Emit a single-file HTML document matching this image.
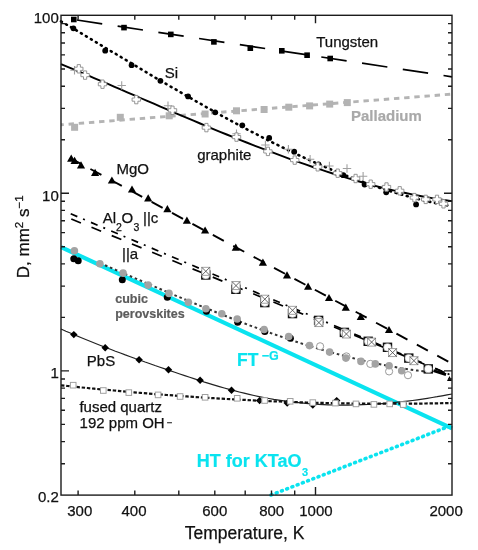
<!DOCTYPE html>
<html><head><meta charset="utf-8"><style>
html,body{margin:0;padding:0;background:#fff;}
svg{display:block;}
text{font-family:"Liberation Sans",sans-serif;}
</style></head><body>
<svg width="478" height="550" viewBox="0 0 478 550">
<rect width="478" height="550" fill="#fff"/>
<line x1="61" y1="124.8" x2="452" y2="94.1" stroke="#b4b4b4" stroke-width="2.9" stroke-linecap="butt" stroke-dasharray="5.4 4.8" stroke-dashoffset="2.6"/>
<rect x="71.1" y="123.8" width="7.0" height="7.0" fill="#b3b3b3" stroke="none" stroke-width="0"/>
<rect x="116.8" y="113.8" width="7.0" height="7.0" fill="#b3b3b3" stroke="none" stroke-width="0"/>
<rect x="165.7" y="112.3" width="7.0" height="7.0" fill="#b3b3b3" stroke="none" stroke-width="0"/>
<rect x="201.6" y="110.5" width="7.0" height="7.0" fill="#b3b3b3" stroke="none" stroke-width="0"/>
<rect x="233" y="107.3" width="7.0" height="7.0" fill="#b3b3b3" stroke="none" stroke-width="0"/>
<rect x="260.6" y="106" width="7.0" height="7.0" fill="#b3b3b3" stroke="none" stroke-width="0"/>
<rect x="285.3" y="103.7" width="7.0" height="7.0" fill="#b3b3b3" stroke="none" stroke-width="0"/>
<rect x="306.1" y="102.4" width="7.0" height="7.0" fill="#b3b3b3" stroke="none" stroke-width="0"/>
<rect x="326.2" y="100.6" width="7.0" height="7.0" fill="#b3b3b3" stroke="none" stroke-width="0"/>
<rect x="343.8" y="99.1" width="7.0" height="7.0" fill="#b3b3b3" stroke="none" stroke-width="0"/>
<line x1="76.9" y1="20" x2="452" y2="76.8" stroke="#000" stroke-width="1.7" stroke-linecap="butt" stroke-dasharray="25.6 15.6"/>
<rect x="71" y="16.7" width="5.6" height="5.6" fill="#000" stroke="none" stroke-width="0"/>
<rect x="121.2" y="24.8" width="5.6" height="5.6" fill="#000" stroke="none" stroke-width="0"/>
<rect x="168" y="31.6" width="5.6" height="5.6" fill="#000" stroke="none" stroke-width="0"/>
<rect x="211.1" y="39.1" width="5.6" height="5.6" fill="#000" stroke="none" stroke-width="0"/>
<rect x="247.5" y="45.4" width="5.6" height="5.6" fill="#000" stroke="none" stroke-width="0"/>
<rect x="279" y="48" width="5.6" height="5.6" fill="#000" stroke="none" stroke-width="0"/>
<rect x="304.3" y="52.4" width="5.6" height="5.6" fill="#000" stroke="none" stroke-width="0"/>
<rect x="327.4" y="55.7" width="5.6" height="5.6" fill="#000" stroke="none" stroke-width="0"/>
<path d="M61,64.1 L67.6,66.9 L74.3,69.6 L80.9,72.4 L87.5,75.2 L94.1,78.1 L100.8,80.9 L107.4,83.7 L114,86.6 L120.6,89.4 L127.3,92.3 L133.9,95.1 L140.5,98 L147.2,100.9 L153.8,103.7 L160.4,106.6 L167,109.4 L173.7,112.3 L180.3,115.1 L186.9,117.9 L193.5,120.7 L200.2,123.5 L206.8,126.3 L213.4,129.1 L220.1,131.8 L226.7,134.5 L233.3,137.2 L239.9,139.9 L246.6,142.5 L253.2,145.1 L259.8,147.7 L266.4,150.2 L273.1,152.7 L279.7,155.2 L286.3,157.7 L292.9,160.1 L299.6,162.4 L306.2,164.7 L312.8,167 L319.5,169.2 L326.1,171.4 L332.7,173.5 L339.3,175.6 L346,177.6 L352.6,179.6 L359.2,181.5 L365.8,183.3 L372.5,185.1 L379.1,186.8 L385.7,188.5 L392.4,190.1 L399,191.6 L405.6,193 L412.2,194.4 L418.9,195.7 L425.5,197 L432.1,198.1 L438.7,199.2 L445.4,200.2 L452,201.1" fill="none" stroke="#000" stroke-width="1.9" stroke-linecap="butt" stroke-linejoin="round"/>
<path d="M61,21.3 L67.6,25.2 L74.3,29.1 L80.9,33.1 L87.5,37.1 L94.1,41 L100.8,45 L107.4,49 L114,52.9 L120.6,56.9 L127.3,60.9 L133.9,64.8 L140.5,68.8 L147.2,72.7 L153.8,76.7 L160.4,80.6 L167,84.5 L173.7,88.3 L180.3,92.2 L186.9,96 L193.5,99.8 L200.2,103.6 L206.8,107.4 L213.4,111.1 L220.1,114.8 L226.7,118.4 L233.3,122 L239.9,125.6 L246.6,129.1 L253.2,132.6 L259.8,136 L266.4,139.4 L273.1,142.8 L279.7,146 L286.3,149.3 L292.9,152.4 L299.6,155.6 L306.2,158.6 L312.8,161.6 L319.5,164.5 L326.1,167.4 L332.7,170.2 L339.3,172.9 L346,175.6 L352.6,178.1 L359.2,180.6 L365.8,183 L372.5,185.4 L379.1,187.6 L385.7,189.8 L392.4,191.8 L399,193.8 L405.6,195.7 L412.2,197.5 L418.9,199.2 L425.5,200.8 L432.1,202.3 L438.7,203.7 L445.4,205 L452,206.2" fill="none" stroke="#000" stroke-width="2.6" stroke-linecap="round" stroke-linejoin="round" stroke-dasharray="1.0 4.8"/>
<circle cx="73.4" cy="28.3" r="2.9" fill="#000" stroke="none" stroke-width="0"/>
<circle cx="105.2" cy="50.7" r="2.9" fill="#000" stroke="none" stroke-width="0"/>
<circle cx="131.6" cy="65.2" r="2.9" fill="#000" stroke="none" stroke-width="0"/>
<circle cx="160.4" cy="80.8" r="2.9" fill="#000" stroke="none" stroke-width="0"/>
<circle cx="188.1" cy="96.4" r="2.9" fill="#000" stroke="none" stroke-width="0"/>
<circle cx="215.2" cy="112.3" r="2.9" fill="#000" stroke="none" stroke-width="0"/>
<circle cx="242.3" cy="125.3" r="2.9" fill="#000" stroke="none" stroke-width="0"/>
<circle cx="269.2" cy="137.9" r="2.9" fill="#000" stroke="none" stroke-width="0"/>
<circle cx="294.2" cy="151.7" r="2.9" fill="#000" stroke="none" stroke-width="0"/>
<circle cx="318.5" cy="164.3" r="2.9" fill="#000" stroke="none" stroke-width="0"/>
<circle cx="343.3" cy="175.2" r="2.9" fill="#000" stroke="none" stroke-width="0"/>
<circle cx="364.6" cy="184.5" r="2.9" fill="#000" stroke="none" stroke-width="0"/>
<circle cx="386.2" cy="192.3" r="2.9" fill="#000" stroke="none" stroke-width="0"/>
<circle cx="416.1" cy="204.4" r="2.9" fill="#000" stroke="none" stroke-width="0"/>
<path d="M70.3,70.2 h8.4 M74.5,66 v8.4" stroke="#a0a0a0" stroke-width="1.1" fill="none"/>
<path d="M117.5,85.5 h8.4 M121.7,81.3 v8.4" stroke="#a0a0a0" stroke-width="1.1" fill="none"/>
<path d="M163.8,105.7 h8.4 M168,101.5 v8.4" stroke="#a0a0a0" stroke-width="1.1" fill="none"/>
<path d="M232.3,133.8 h8.4 M236.5,129.6 v8.4" stroke="#a0a0a0" stroke-width="1.1" fill="none"/>
<path d="M261.2,145 h8.4 M265.4,140.8 v8.4" stroke="#a0a0a0" stroke-width="1.1" fill="none"/>
<path d="M284.2,149.2 h8.4 M288.4,145 v8.4" stroke="#a0a0a0" stroke-width="1.1" fill="none"/>
<path d="M305.9,159.3 h8.4 M310.1,155.1 v8.4" stroke="#a0a0a0" stroke-width="1.1" fill="none"/>
<path d="M325.2,166 h8.4 M329.4,161.8 v8.4" stroke="#a0a0a0" stroke-width="1.1" fill="none"/>
<path d="M342.8,168.5 h8.4 M347,164.3 v8.4" stroke="#a0a0a0" stroke-width="1.1" fill="none"/>
<path d="M358.9,176.2 h8.4 M363.1,172 v8.4" stroke="#a0a0a0" stroke-width="1.1" fill="none"/>
<path d="M77.2,64.6 h3.2 v2.6 h2.6 v3.2 h-2.6 v2.6 h-3.2 v-2.6 h-2.6 v-3.2 h2.6 Z" fill="#fff" stroke="#8a8a8a" stroke-width="0.9"/>
<path d="M83.5,70.9 h3.2 v2.6 h2.6 v3.2 h-2.6 v2.6 h-3.2 v-2.6 h-2.6 v-3.2 h2.6 Z" fill="#fff" stroke="#8a8a8a" stroke-width="0.9"/>
<path d="M100.9,80 h3.2 v2.6 h2.6 v3.2 h-2.6 v2.6 h-3.2 v-2.6 h-2.6 v-3.2 h2.6 Z" fill="#fff" stroke="#8a8a8a" stroke-width="0.9"/>
<path d="M134.7,95.4 h3.2 v2.6 h2.6 v3.2 h-2.6 v2.6 h-3.2 v-2.6 h-2.6 v-3.2 h2.6 Z" fill="#fff" stroke="#8a8a8a" stroke-width="0.9"/>
<path d="M170.9,106.1 h3.2 v2.6 h2.6 v3.2 h-2.6 v2.6 h-3.2 v-2.6 h-2.6 v-3.2 h2.6 Z" fill="#fff" stroke="#8a8a8a" stroke-width="0.9"/>
<path d="M204.8,123.4 h3.2 v2.6 h2.6 v3.2 h-2.6 v2.6 h-3.2 v-2.6 h-2.6 v-3.2 h2.6 Z" fill="#fff" stroke="#8a8a8a" stroke-width="0.9"/>
<path d="M234.9,132.9 h3.2 v2.6 h2.6 v3.2 h-2.6 v2.6 h-3.2 v-2.6 h-2.6 v-3.2 h2.6 Z" fill="#fff" stroke="#8a8a8a" stroke-width="0.9"/>
<path d="M266.3,147.2 h3.2 v2.6 h2.6 v3.2 h-2.6 v2.6 h-3.2 v-2.6 h-2.6 v-3.2 h2.6 Z" fill="#fff" stroke="#8a8a8a" stroke-width="0.9"/>
<path d="M293.1,155.9 h3.2 v2.6 h2.6 v3.2 h-2.6 v2.6 h-3.2 v-2.6 h-2.6 v-3.2 h2.6 Z" fill="#fff" stroke="#8a8a8a" stroke-width="0.9"/>
<path d="M316.1,162.6 h3.2 v2.6 h2.6 v3.2 h-2.6 v2.6 h-3.2 v-2.6 h-2.6 v-3.2 h2.6 Z" fill="#fff" stroke="#8a8a8a" stroke-width="0.9"/>
<path d="M336.1,169 h3.2 v2.6 h2.6 v3.2 h-2.6 v2.6 h-3.2 v-2.6 h-2.6 v-3.2 h2.6 Z" fill="#fff" stroke="#8a8a8a" stroke-width="0.9"/>
<path d="M354,174.3 h3.2 v2.6 h2.6 v3.2 h-2.6 v2.6 h-3.2 v-2.6 h-2.6 v-3.2 h2.6 Z" fill="#fff" stroke="#8a8a8a" stroke-width="0.9"/>
<path d="M369.1,180 h3.2 v2.6 h2.6 v3.2 h-2.6 v2.6 h-3.2 v-2.6 h-2.6 v-3.2 h2.6 Z" fill="#fff" stroke="#8a8a8a" stroke-width="0.9"/>
<path d="M384.9,182.8 h3.2 v2.6 h2.6 v3.2 h-2.6 v2.6 h-3.2 v-2.6 h-2.6 v-3.2 h2.6 Z" fill="#fff" stroke="#8a8a8a" stroke-width="0.9"/>
<path d="M398.1,186.6 h3.2 v2.6 h2.6 v3.2 h-2.6 v2.6 h-3.2 v-2.6 h-2.6 v-3.2 h2.6 Z" fill="#fff" stroke="#8a8a8a" stroke-width="0.9"/>
<path d="M412.8,193.4 h3.2 v2.6 h2.6 v3.2 h-2.6 v2.6 h-3.2 v-2.6 h-2.6 v-3.2 h2.6 Z" fill="#fff" stroke="#8a8a8a" stroke-width="0.9"/>
<path d="M424.1,195.2 h3.2 v2.6 h2.6 v3.2 h-2.6 v2.6 h-3.2 v-2.6 h-2.6 v-3.2 h2.6 Z" fill="#fff" stroke="#8a8a8a" stroke-width="0.9"/>
<path d="M435.4,195.2 h3.2 v2.6 h2.6 v3.2 h-2.6 v2.6 h-3.2 v-2.6 h-2.6 v-3.2 h2.6 Z" fill="#fff" stroke="#8a8a8a" stroke-width="0.9"/>
<path d="M441.9,199.6 h3.2 v2.6 h2.6 v3.2 h-2.6 v2.6 h-3.2 v-2.6 h-2.6 v-3.2 h2.6 Z" fill="#fff" stroke="#8a8a8a" stroke-width="0.9"/>
<line x1="70" y1="158" x2="452" y2="363.6" stroke="#000" stroke-width="1.9" stroke-linecap="butt" stroke-dasharray="12.5 10.67"/>
<path d="M71.2,154.6 L75.3,161.8 L67.1,161.8 Z" fill="#000"/>
<path d="M74.6,156.8 L78.7,164 L70.5,164 Z" fill="#000"/>
<path d="M81,161.2 L85.1,168.4 L76.9,168.4 Z" fill="#000"/>
<path d="M95.1,168.7 L99.2,175.9 L91,175.9 Z" fill="#000"/>
<path d="M111.9,176.4 L116,183.6 L107.8,183.6 Z" fill="#000"/>
<path d="M132,185.4 L136.1,192.6 L127.9,192.6 Z" fill="#000"/>
<path d="M148.2,194.3 L152.3,201.5 L144.1,201.5 Z" fill="#000"/>
<path d="M167.4,205.1 L171.5,212.3 L163.3,212.3 Z" fill="#000"/>
<path d="M186.9,216.5 L191,223.7 L182.8,223.7 Z" fill="#000"/>
<path d="M205.1,226.4 L209.2,233.6 L201,233.6 Z" fill="#000"/>
<path d="M235.8,243.5 L239.9,250.7 L231.7,250.7 Z" fill="#000"/>
<path d="M262.9,258.6 L267,265.8 L258.8,265.8 Z" fill="#000"/>
<path d="M287,271.3 L291.1,278.5 L282.9,278.5 Z" fill="#000"/>
<path d="M308.1,282.6 L312.2,289.8 L304,289.8 Z" fill="#000"/>
<path d="M329,293.9 L333.1,301.1 L324.9,301.1 Z" fill="#000"/>
<path d="M345.8,303.5 L349.9,310.7 L341.7,310.7 Z" fill="#000"/>
<path d="M360.8,312.8 L364.9,320 L356.7,320 Z" fill="#000"/>
<path d="M389,325.9 L393.1,333.1 L384.9,333.1 Z" fill="#000"/>
<path d="M449.5,375.9 L452,380.9 L447,380.9 Z" fill="#000"/>
<line x1="70.7" y1="213.8" x2="452" y2="375.5" stroke="#000" stroke-width="1.7" stroke-linecap="butt" stroke-dasharray="7.2 6.2 2.0 6.6"/>
<line x1="71.3" y1="219" x2="452" y2="375.5" stroke="#000" stroke-width="1.7" stroke-linecap="butt" stroke-dasharray="10.4 11.45"/>
<line x1="433.5" y1="370.6" x2="446" y2="374.6" stroke="#000" stroke-width="3.0" stroke-linecap="butt"/>
<line x1="61" y1="247.1" x2="452" y2="428.3" stroke="#0ae3ef" stroke-width="4.2" stroke-linecap="butt"/>
<line x1="271" y1="495" x2="452" y2="425.2" stroke="#0ae3ef" stroke-width="3.6" stroke-linecap="round" stroke-dasharray="1.0 4.6"/>
<path d="M100,263.1 L105.6,265.5 L111.1,267.9 L116.7,270.3 L122.3,272.7 L127.8,275.1 L133.4,277.5 L139,279.9 L144.5,282.3 L150.1,284.7 L155.7,287.1 L161.2,289.5 L166.8,291.8 L172.4,294.2 L177.9,296.5 L183.5,298.9 L189.1,301.2 L194.7,303.5 L200.2,305.8 L205.8,308.1 L211.4,310.3 L216.9,312.6 L222.5,314.8 L228.1,317 L233.6,319.2 L239.2,321.3 L244.8,323.5 L250.3,325.6 L255.9,327.6 L261.5,329.7 L267,331.7 L272.6,333.7 L278.2,335.6 L283.7,337.5 L289.3,339.4 L294.9,341.3 L300.4,343.1 L306,344.9 L311.6,346.6 L317.1,348.3 L322.7,349.9 L328.3,351.6 L333.8,353.1 L339.4,354.6 L345,356.1 L350.6,357.5 L356.1,358.9 L361.7,360.3 L367.3,361.5 L372.8,362.8 L378.4,363.9 L384,365.1 L389.5,366.1 L395.1,367.1 L400.7,368.1 L406.2,369 L411.8,369.8 L417.4,370.6 L422.9,371.3 L428.5,371.9" fill="none" stroke="#333" stroke-width="2.0" stroke-linecap="butt" stroke-linejoin="round" stroke-dasharray="2.6 2.8"/>
<circle cx="73.8" cy="258.7" r="3.5" fill="#000" stroke="none" stroke-width="0"/>
<circle cx="78.2" cy="260.8" r="3.5" fill="#000" stroke="none" stroke-width="0"/>
<circle cx="122.3" cy="279.8" r="3.5" fill="#000" stroke="none" stroke-width="0"/>
<circle cx="167.3" cy="297.2" r="3.5" fill="#000" stroke="none" stroke-width="0"/>
<circle cx="206.5" cy="311.2" r="3.5" fill="#000" stroke="none" stroke-width="0"/>
<circle cx="237.7" cy="322.2" r="3.5" fill="#000" stroke="none" stroke-width="0"/>
<circle cx="264.8" cy="331.5" r="3.5" fill="#000" stroke="none" stroke-width="0"/>
<circle cx="290.4" cy="338.3" r="3.5" fill="#000" stroke="none" stroke-width="0"/>
<circle cx="320.1" cy="346.3" r="3.6" fill="#fff" stroke="#9a9a9a" stroke-width="1.0"/>
<circle cx="346.4" cy="356.4" r="3.6" fill="#fff" stroke="#9a9a9a" stroke-width="1.0"/>
<circle cx="370.3" cy="363.9" r="3.6" fill="#fff" stroke="#9a9a9a" stroke-width="1.0"/>
<circle cx="389.1" cy="371.4" r="3.6" fill="#fff" stroke="#9a9a9a" stroke-width="1.0"/>
<circle cx="408" cy="375.2" r="3.6" fill="#fff" stroke="#9a9a9a" stroke-width="1.0"/>
<circle cx="74.4" cy="250.8" r="3.8" fill="#a3a3a3" stroke="none" stroke-width="0"/>
<circle cx="99.9" cy="263.7" r="3.8" fill="#a3a3a3" stroke="none" stroke-width="0"/>
<circle cx="123.1" cy="273.1" r="3.8" fill="#a3a3a3" stroke="none" stroke-width="0"/>
<circle cx="148.2" cy="285.1" r="3.8" fill="#a3a3a3" stroke="none" stroke-width="0"/>
<circle cx="169" cy="293.4" r="3.8" fill="#a3a3a3" stroke="none" stroke-width="0"/>
<circle cx="188.4" cy="302.2" r="3.8" fill="#a3a3a3" stroke="none" stroke-width="0"/>
<circle cx="205.9" cy="308.8" r="3.8" fill="#a3a3a3" stroke="none" stroke-width="0"/>
<circle cx="221.8" cy="313.8" r="3.8" fill="#a3a3a3" stroke="none" stroke-width="0"/>
<circle cx="237.2" cy="319" r="3.8" fill="#a3a3a3" stroke="none" stroke-width="0"/>
<circle cx="264.1" cy="329.5" r="3.8" fill="#a3a3a3" stroke="none" stroke-width="0"/>
<circle cx="288.7" cy="336.5" r="3.8" fill="#a3a3a3" stroke="none" stroke-width="0"/>
<circle cx="309.5" cy="345.6" r="3.8" fill="#a3a3a3" stroke="none" stroke-width="0"/>
<circle cx="329.6" cy="352.1" r="3.8" fill="#a3a3a3" stroke="none" stroke-width="0"/>
<circle cx="345.9" cy="358.1" r="3.8" fill="#a3a3a3" stroke="none" stroke-width="0"/>
<circle cx="361" cy="361.4" r="3.8" fill="#a3a3a3" stroke="none" stroke-width="0"/>
<circle cx="375.3" cy="363.9" r="3.8" fill="#a3a3a3" stroke="none" stroke-width="0"/>
<circle cx="389.1" cy="365.7" r="3.8" fill="#a3a3a3" stroke="none" stroke-width="0"/>
<circle cx="401.7" cy="370.7" r="3.8" fill="#a3a3a3" stroke="none" stroke-width="0"/>
<rect x="201.9" y="271.1" width="7.8" height="7.8" fill="#fff" stroke="#111" stroke-width="1.6"/>
<rect x="232" y="285.4" width="7.8" height="7.8" fill="#fff" stroke="#111" stroke-width="1.6"/>
<rect x="260.9" y="298.7" width="7.8" height="7.8" fill="#fff" stroke="#111" stroke-width="1.6"/>
<rect x="288.6" y="309.7" width="7.8" height="7.8" fill="#fff" stroke="#111" stroke-width="1.6"/>
<rect x="314.7" y="316.5" width="7.8" height="7.8" fill="#fff" stroke="#111" stroke-width="1.6"/>
<rect x="340.5" y="328.5" width="7.8" height="7.8" fill="#fff" stroke="#111" stroke-width="1.6"/>
<rect x="364.3" y="337.4" width="7.8" height="7.8" fill="#fff" stroke="#111" stroke-width="1.6"/>
<rect x="383.6" y="343.4" width="7.8" height="7.8" fill="#fff" stroke="#111" stroke-width="1.6"/>
<rect x="404.9" y="354.2" width="7.8" height="7.8" fill="#fff" stroke="#111" stroke-width="1.6"/>
<rect x="424.4" y="365" width="7.8" height="7.8" fill="#fff" stroke="#111" stroke-width="1.6"/>
<circle cx="205.8" cy="275" r="3.9" fill="#fff" stroke="#888" stroke-width="0.5"/>
<circle cx="235.9" cy="289.3" r="3.9" fill="#fff" stroke="#888" stroke-width="0.5"/>
<circle cx="264.8" cy="302.6" r="3.9" fill="#fff" stroke="#888" stroke-width="0.5"/>
<circle cx="292.5" cy="313.6" r="3.9" fill="#fff" stroke="#888" stroke-width="0.5"/>
<circle cx="318.6" cy="320.4" r="3.9" fill="#fff" stroke="#888" stroke-width="0.5"/>
<circle cx="344.4" cy="332.4" r="3.9" fill="#fff" stroke="#888" stroke-width="0.5"/>
<circle cx="368.2" cy="341.3" r="3.9" fill="#fff" stroke="#888" stroke-width="0.5"/>
<circle cx="387.5" cy="347.3" r="3.9" fill="#fff" stroke="#888" stroke-width="0.5"/>
<circle cx="408.8" cy="358.1" r="3.9" fill="#fff" stroke="#888" stroke-width="0.5"/>
<circle cx="428.3" cy="368.9" r="3.9" fill="#fff" stroke="#888" stroke-width="0.5"/>
<rect x="201.8" y="267.3" width="8.0" height="8.0" fill="#fff" stroke="#9a9a9a" stroke-width="0.9"/>
<path d="M201.8,267.3 L209.8,275.3 M209.8,267.3 L201.8,275.3" stroke="#444" stroke-width="0.8"/>
<rect x="232" y="281.6" width="8.0" height="8.0" fill="#fff" stroke="#9a9a9a" stroke-width="0.9"/>
<path d="M232,281.6 L240,289.6 M240,281.6 L232,289.6" stroke="#444" stroke-width="0.8"/>
<rect x="260.8" y="295.2" width="8.0" height="8.0" fill="#fff" stroke="#9a9a9a" stroke-width="0.9"/>
<path d="M260.8,295.2 L268.8,303.2 M268.8,295.2 L260.8,303.2" stroke="#444" stroke-width="0.8"/>
<rect x="288.5" y="306.3" width="8.0" height="8.0" fill="#fff" stroke="#9a9a9a" stroke-width="0.9"/>
<path d="M288.5,306.3 L296.5,314.3 M296.5,306.3 L288.5,314.3" stroke="#444" stroke-width="0.8"/>
<rect x="314.9" y="318.6" width="8.0" height="8.0" fill="#fff" stroke="#9a9a9a" stroke-width="0.9"/>
<path d="M314.9,318.6 L322.9,326.6 M322.9,318.6 L314.9,326.6" stroke="#444" stroke-width="0.8"/>
<rect x="342.4" y="330" width="8.0" height="8.0" fill="#fff" stroke="#9a9a9a" stroke-width="0.9"/>
<path d="M342.4,330 L350.4,338 M350.4,330 L342.4,338" stroke="#444" stroke-width="0.8"/>
<rect x="367.6" y="338.1" width="8.0" height="8.0" fill="#fff" stroke="#9a9a9a" stroke-width="0.9"/>
<path d="M367.6,338.1 L375.6,346.1 M375.6,338.1 L367.6,346.1" stroke="#444" stroke-width="0.8"/>
<rect x="388.6" y="348.6" width="8.0" height="8.0" fill="#fff" stroke="#9a9a9a" stroke-width="0.9"/>
<path d="M388.6,348.6 L396.6,356.6 M396.6,348.6 L388.6,356.6" stroke="#444" stroke-width="0.8"/>
<rect x="409.9" y="356.7" width="8.0" height="8.0" fill="#fff" stroke="#9a9a9a" stroke-width="0.9"/>
<path d="M409.9,356.7 L417.9,364.7 M417.9,356.7 L409.9,364.7" stroke="#444" stroke-width="0.8"/>
<path d="M61,329 L65.9,331.2 L70.9,333.3 L75.8,335.4 L80.8,337.5 L85.7,339.5 L90.7,341.5 L95.6,343.5 L100.6,345.5 L105.5,347.4 L110.5,349.3 L115.4,351.2 L120.4,353 L125.3,354.9 L130.3,356.7 L135.2,358.5 L140.2,360.2 L145.1,362 L150.1,363.7 L155,365.5 L160,367.2 L164.9,368.9 L169.9,370.6 L174.8,372.3 L179.8,374 L184.7,375.6 L189.7,377.3 L194.6,378.9 L199.6,380.5 L204.5,382.1 L209.5,383.6 L214.4,385.1 L219.4,386.6 L224.3,388 L229.3,389.4 L234.2,390.7 L239.2,392 L244.1,393.2 L249.1,394.4 L254,395.5 L259,396.6 L263.9,397.6 L268.9,398.5 L273.8,399.4 L278.8,400.2 L283.7,400.9 L288.7,401.6 L293.6,402.2 L298.6,402.7 L303.5,403.2 L308.5,403.7 L313.4,404 L318.4,404.3 L323.3,404.6 L328.3,404.8 L333.2,405 L338.2,405.1 L343.1,405.1 L348.1,405.1 L353,405 L358,404.9 L362.9,404.7 L367.9,404.5 L372.8,404.3 L377.8,403.9 L382.7,403.6 L387.7,403.2 L392.6,402.7 L397.6,402.2 L402.5,401.7 L407.5,401.1 L412.4,400.5 L417.4,399.8 L422.3,399.1 L427.3,398.3 L432.2,397.5 L437.2,396.7 L442.1,395.8 L447.1,394.9 L452,394" fill="none" stroke="#222" stroke-width="1.2" stroke-linecap="butt" stroke-linejoin="round"/>
<path d="M73.8,330.9 L77.5,334.6 L73.8,338.3 L70.1,334.6 Z" fill="#000"/>
<path d="M105.2,344 L108.9,347.7 L105.2,351.4 L101.5,347.7 Z" fill="#000"/>
<path d="M139.1,356 L142.8,359.7 L139.1,363.4 L135.4,359.7 Z" fill="#000"/>
<path d="M168.5,366.1 L172.2,369.8 L168.5,373.5 L164.8,369.8 Z" fill="#000"/>
<path d="M200.1,376.5 L203.8,380.2 L200.1,383.9 L196.4,380.2 Z" fill="#000"/>
<path d="M231.5,386.6 L235.2,390.3 L231.5,394 L227.8,390.3 Z" fill="#000"/>
<path d="M259.6,396.9 L263.3,400.6 L259.6,404.3 L255.9,400.6 Z" fill="#000"/>
<path d="M287.2,399.4 L290.9,403.1 L287.2,406.8 L283.5,403.1 Z" fill="#000"/>
<path d="M312.8,401.4 L316.5,405.1 L312.8,408.8 L309.1,405.1 Z" fill="#000"/>
<path d="M336.7,396.9 L340.4,400.6 L336.7,404.3 L333,400.6 Z" fill="#000"/>
<path d="M61,385.3 L67.6,386 L74.3,386.7 L80.9,387.4 L87.5,388 L94.1,388.7 L100.8,389.3 L107.4,389.9 L114,390.5 L120.6,391.1 L127.3,391.7 L133.9,392.3 L140.5,392.9 L147.2,393.4 L153.8,394 L160.4,394.5 L167,395 L173.7,395.5 L180.3,396 L186.9,396.4 L193.5,396.9 L200.2,397.3 L206.8,397.8 L213.4,398.2 L220.1,398.6 L226.7,399 L233.3,399.3 L239.9,399.7 L246.6,400 L253.2,400.4 L259.8,400.7 L266.4,401 L273.1,401.3 L279.7,401.5 L286.3,401.8 L292.9,402 L299.6,402.3 L306.2,402.5 L312.8,402.7 L319.5,402.8 L326.1,403 L332.7,403.1 L339.3,403.3 L346,403.4 L352.6,403.5 L359.2,403.6 L365.8,403.6 L372.5,403.7 L379.1,403.7 L385.7,403.7 L392.4,403.7 L399,403.7 L405.6,403.7 L412.2,403.6 L418.9,403.6 L425.5,403.5 L432.1,403.4 L438.7,403.3 L445.4,403.1 L452,403" fill="none" stroke="#111" stroke-width="2.2" stroke-linecap="butt" stroke-linejoin="round" stroke-dasharray="3.4 1.8"/>
<rect x="70.4" y="382.4" width="5.6" height="5.6" fill="#fff" stroke="#a0a0a0" stroke-width="1.0"/>
<rect x="100.5" y="387.7" width="5.6" height="5.6" fill="#fff" stroke="#a0a0a0" stroke-width="1.0"/>
<rect x="126" y="389.8" width="5.6" height="5.6" fill="#fff" stroke="#a0a0a0" stroke-width="1.0"/>
<rect x="155.3" y="392.1" width="5.6" height="5.6" fill="#fff" stroke="#a0a0a0" stroke-width="1.0"/>
<rect x="177.3" y="393.7" width="5.6" height="5.6" fill="#fff" stroke="#a0a0a0" stroke-width="1.0"/>
<rect x="202.3" y="394.5" width="5.6" height="5.6" fill="#fff" stroke="#a0a0a0" stroke-width="1.0"/>
<rect x="234.4" y="395.5" width="5.6" height="5.6" fill="#fff" stroke="#a0a0a0" stroke-width="1.0"/>
<rect x="261.8" y="397.7" width="5.6" height="5.6" fill="#fff" stroke="#a0a0a0" stroke-width="1.0"/>
<rect x="287.4" y="398.5" width="5.6" height="5.6" fill="#fff" stroke="#a0a0a0" stroke-width="1.0"/>
<rect x="310" y="399.8" width="5.6" height="5.6" fill="#fff" stroke="#a0a0a0" stroke-width="1.0"/>
<rect x="332.6" y="400.3" width="5.6" height="5.6" fill="#fff" stroke="#a0a0a0" stroke-width="1.0"/>
<rect x="353.2" y="401.1" width="5.6" height="5.6" fill="#fff" stroke="#a0a0a0" stroke-width="1.0"/>
<rect x="371.1" y="401.6" width="5.6" height="5.6" fill="#fff" stroke="#a0a0a0" stroke-width="1.0"/>
<rect x="386.9" y="401.1" width="5.6" height="5.6" fill="#fff" stroke="#a0a0a0" stroke-width="1.0"/>
<rect x="400.5" y="401.8" width="5.6" height="5.6" fill="#fff" stroke="#a0a0a0" stroke-width="1.0"/>
<rect x="61" y="15.3" width="391" height="479.8" fill="none" stroke="#1c1c1c" stroke-width="1.4"/>
<path d="M61,463.8 h4 M452,463.8 h-4 M61,441.6 h4 M452,441.6 h-4 M61,424.4 h4 M452,424.4 h-4 M61,410.3 h4 M452,410.3 h-4 M61,398.4 h4 M452,398.4 h-4 M61,388.1 h4 M452,388.1 h-4 M61,379 h4 M452,379 h-4 M61,370.9 h8 M452,370.9 h-8 M61,317.4 h4 M452,317.4 h-4 M61,286.1 h4 M452,286.1 h-4 M61,263.9 h4 M452,263.9 h-4 M61,246.7 h4 M452,246.7 h-4 M61,232.6 h4 M452,232.6 h-4 M61,220.7 h4 M452,220.7 h-4 M61,210.4 h4 M452,210.4 h-4 M61,201.3 h4 M452,201.3 h-4 M61,193.2 h8 M452,193.2 h-8 M61,139.7 h4 M452,139.7 h-4 M61,108.4 h4 M452,108.4 h-4 M61,86.2 h4 M452,86.2 h-4 M61,69 h4 M452,69 h-4 M61,54.9 h4 M452,54.9 h-4 M61,43 h4 M452,43 h-4 M61,32.7 h4 M452,32.7 h-4 M61,23.6 h4 M452,23.6 h-4 M78.1,495.1 v-4.5 M78.1,15.3 v4.5 M134.8,495.1 v-4.5 M134.8,15.3 v4.5 M178.8,495.1 v-4.5 M178.8,15.3 v4.5 M214.8,495.1 v-4.5 M214.8,15.3 v4.5 M245.2,495.1 v-4.5 M245.2,15.3 v4.5 M271.5,495.1 v-4.5 M271.5,15.3 v4.5 M294.7,495.1 v-4.5 M294.7,15.3 v4.5 M315.5,495.1 v-8 M315.5,15.3 v8" stroke="#1c1c1c" stroke-width="1.4" fill="none"/>
<text x="58.8" y="22.8" font-size="15" text-anchor="end" font-weight="normal" fill="#111" stroke="#111" stroke-width="0.25">100</text>
<text x="58.8" y="200.5" font-size="15" text-anchor="end" font-weight="normal" fill="#111" stroke="#111" stroke-width="0.25">10</text>
<text x="58.8" y="378.2" font-size="15" text-anchor="end" font-weight="normal" fill="#111" stroke="#111" stroke-width="0.25">1</text>
<text x="58.8" y="502.4" font-size="15" text-anchor="end" font-weight="normal" fill="#111" stroke="#111" stroke-width="0.25">0.2</text>
<text x="79.8" y="515.7" font-size="15" text-anchor="middle" font-weight="normal" fill="#111" stroke="#111" stroke-width="0.25">300</text>
<text x="134" y="515.7" font-size="15" text-anchor="middle" font-weight="normal" fill="#111" stroke="#111" stroke-width="0.25">400</text>
<text x="214.8" y="515.7" font-size="15" text-anchor="middle" font-weight="normal" fill="#111" stroke="#111" stroke-width="0.25">600</text>
<text x="271.7" y="515.7" font-size="15" text-anchor="middle" font-weight="normal" fill="#111" stroke="#111" stroke-width="0.25">800</text>
<text x="315.9" y="515.7" font-size="15" text-anchor="middle" font-weight="normal" fill="#111" stroke="#111" stroke-width="0.25">1000</text>
<text x="446.1" y="515.7" font-size="15" text-anchor="middle" font-weight="normal" fill="#111" stroke="#111" stroke-width="0.25">2000</text>
<text x="244.6" y="539.3" font-size="17.5" text-anchor="middle" font-weight="normal" fill="#111" stroke="#111" stroke-width="0.25">Temperature, K</text>
<text transform="translate(29,236.8) rotate(-90)" font-size="17" text-anchor="middle" fill="#111" stroke="#111" stroke-width="0.25">D, mm<tspan font-size="11.5" dy="-6.5">2</tspan><tspan dy="6.5"> s</tspan><tspan font-size="11.5" dy="-6.5">&#8722;1</tspan></text>
<text x="316.2" y="47.2" font-size="15" text-anchor="start" font-weight="normal" fill="#111" stroke="#111" stroke-width="0.25">Tungsten</text>
<text x="164.8" y="77.8" font-size="15" text-anchor="start" font-weight="normal" fill="#111" stroke="#111" stroke-width="0.25">Si</text>
<text x="351" y="120.8" font-size="15" text-anchor="start" font-weight="bold" fill="#a9a9a9" stroke="#a9a9a9" stroke-width="0.2">Palladium</text>
<text x="197.2" y="160.2" font-size="15" text-anchor="start" font-weight="normal" fill="#111" stroke="#111" stroke-width="0.25">graphite</text>
<text x="116.4" y="173.9" font-size="15" text-anchor="start" font-weight="normal" fill="#111" stroke="#111" stroke-width="0.25">MgO</text>
<text x="102.7" y="222.9" font-size="15" text-anchor="start" font-weight="normal" fill="#111" stroke="#111" stroke-width="0.25">Al</text>
<text x="116" y="230.9" font-size="10.5" text-anchor="start" font-weight="normal" fill="#111" stroke="#111" stroke-width="0.25">2</text>
<text x="121.4" y="222.9" font-size="15" text-anchor="start" font-weight="normal" fill="#111" stroke="#111" stroke-width="0.25">O</text>
<text x="133.4" y="230.9" font-size="10.5" text-anchor="start" font-weight="normal" fill="#111" stroke="#111" stroke-width="0.25">3</text>
<text x="143" y="222.9" font-size="15" text-anchor="start" font-weight="normal" fill="#111" stroke="#111" stroke-width="0.25">||c</text>
<text x="122" y="259.3" font-size="15" text-anchor="start" font-weight="normal" fill="#111" stroke="#111" stroke-width="0.25">||a</text>
<text x="115.2" y="303.2" font-size="12.5" text-anchor="start" font-weight="bold" fill="#5c5c5c" stroke="#5c5c5c" stroke-width="0.2">cubic</text>
<text x="115.2" y="317.7" font-size="12.5" text-anchor="start" font-weight="bold" fill="#5c5c5c" stroke="#5c5c5c" stroke-width="0.2">perovskites</text>
<text x="86.8" y="365.7" font-size="15" text-anchor="start" font-weight="normal" fill="#111" stroke="#111" stroke-width="0.25">PbS</text>
<text x="79.4" y="411.6" font-size="15" text-anchor="start" font-weight="normal" fill="#111" stroke="#111" stroke-width="0.25">fused quartz</text>
<text x="79.6" y="428" font-size="15" text-anchor="start" font-weight="normal" fill="#111" stroke="#111" stroke-width="0.25">192 ppm OH</text>
<text x="166.8" y="426" font-size="9.5" text-anchor="start" font-weight="normal" fill="#111" stroke="#111" stroke-width="0.25">&#8722;</text>
<text x="237" y="366.3" font-size="17.5" text-anchor="start" font-weight="bold" fill="#0ae3ef" stroke="#0ae3ef" stroke-width="0.2">FT</text>
<text x="261.8" y="359.8" font-size="12.5" text-anchor="start" font-weight="bold" fill="#0ae3ef" stroke="#0ae3ef" stroke-width="0.2">&#8722;G</text>
<text x="196.8" y="466.6" font-size="18" text-anchor="start" font-weight="bold" fill="#0ae3ef" stroke="#0ae3ef" stroke-width="0.2">HT for KTaO</text>
<text x="302" y="475.6" font-size="11" text-anchor="start" font-weight="bold" fill="#0ae3ef" stroke="#0ae3ef" stroke-width="0.2">3</text>
</svg>
</body></html>
